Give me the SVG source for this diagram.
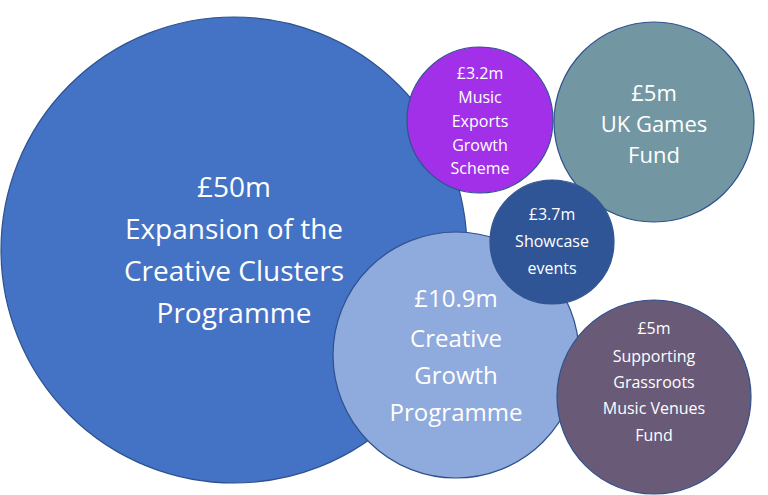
<svg xmlns="http://www.w3.org/2000/svg" width="768" height="495" viewBox="0 0 768 495">
<style>
circle{stroke:#2F528F;stroke-width:1.2}
text{font-family:"Open Sans","Liberation Sans",sans-serif;fill:#fff;text-anchor:middle;dominant-baseline:middle}
</style>
<rect width="768" height="495" fill="#fff"/>
<g id="clusters"><circle cx="234" cy="250" r="233" fill="#4472C4"/>
<text font-size="28"><tspan x="234" y="190">£50m</tspan><tspan x="234" y="232">Expansion of the</tspan><tspan x="234" y="274">Creative Clusters</tspan><tspan x="234" y="316">Programme</tspan></text></g>
<g id="music"><circle cx="480" cy="120" r="73" fill="#A130E8"/>
<text font-size="16"><tspan x="480" y="75">£3.2m</tspan><tspan x="480" y="99">Music</tspan><tspan x="480" y="123">Exports</tspan><tspan x="480" y="147">Growth</tspan><tspan x="480" y="170">Scheme</tspan></text></g>
<g id="games"><circle cx="654" cy="122" r="100" fill="#7297A3"/>
<text font-size="22"><tspan x="654" y="95">£5m</tspan><tspan x="654" y="126">UK Games</tspan><tspan x="654" y="157">Fund</tspan></text></g>
<g id="growth"><circle cx="456" cy="355" r="123" fill="#8FAADC"/>
<text font-size="24"><tspan x="456" y="301">£10.9m</tspan><tspan x="456" y="341">Creative</tspan><tspan x="456" y="378">Growth</tspan><tspan x="456" y="415">Programme</tspan></text></g>
<g id="showcase"><circle cx="552" cy="242" r="62" fill="#2F5597"/>
<text font-size="16"><tspan x="552" y="216">£3.7m</tspan><tspan x="552" y="243">Showcase</tspan><tspan x="552" y="270">events</tspan></text></g>
<g id="grassroots"><circle cx="654" cy="397" r="97" fill="#695A78"/>
<text font-size="16"><tspan x="654" y="330">£5m</tspan><tspan x="654" y="358">Supporting</tspan><tspan x="654" y="384">Grassroots</tspan><tspan x="654" y="410">Music Venues</tspan><tspan x="654" y="437">Fund</tspan></text></g>
<g id="connectors"/>
</svg>
